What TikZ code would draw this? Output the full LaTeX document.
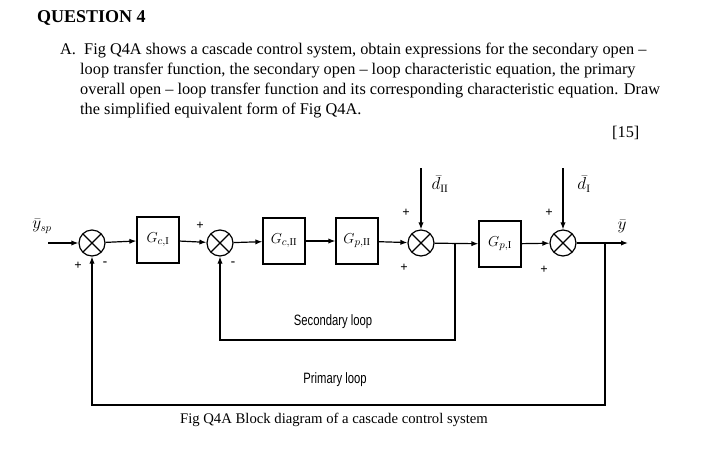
\documentclass[tikz,border=0pt]{standalone}
\usepackage{fontspec}
\setmainfont{Liberation Serif}
\setsansfont{Liberation Sans}
\newfontfamily\bodyfont{Liberation Serif}
\newfontfamily\labfont[FakeStretch=0.75]{Liberation Sans}
\usetikzlibrary{arrows.meta}
\begin{document}
\begin{tikzpicture}[x=1pt,y=-1pt,
  blk/.style={draw,line width=1.2pt,minimum width=42pt,minimum height=46pt,font=\fontsize{15}{17}\selectfont},
  sumj/.style={draw,line width=1.2pt,circle,minimum size=26pt,inner sep=0pt,path picture={\draw[line width=1.2pt] (path picture bounding box.north west)--(path picture bounding box.south east) (path picture bounding box.north east)--(path picture bounding box.south west);}},
  sig/.style={line width=1.2pt,-{Latex[length=7pt]}},
  sgn/.style={font=\fontsize{13}{13}\selectfont\bfseries},
  txt/.style={anchor=west,font=\bodyfont\fontsize{16.3}{18}\selectfont,inner sep=0pt},
  lab/.style={font=\fontsize{16}{18}\selectfont}]
\useasboundingbox[fill=white] (0,0) rectangle (720,448);
\node[anchor=west,font=\bfseries\bodyfont\fontsize{18}{20}\selectfont,inner sep=0pt] (q) at (37,18) {QUESTION 4};
\node[txt] (l1) at (60,51) {A.\enspace Fig Q4A shows a cascade control system, obtain expressions for the secondary open –};
\node[txt] (l2) at (80,71) {loop transfer function, the secondary open – loop characteristic equation, the primary};
\node[txt] (l3) at (80,91) {overall open – loop transfer function and its corresponding characteristic equation. Draw};
\node[txt] (l4) at (80,111) {the simplified equivalent form of Fig Q4A.};
\node[txt] (l5) at (612,133) {[15]};

\node[sumj] (s1) at (92,243) {};
\node[blk] (gc1) at (158,240) {$G_{c,\mathrm{I}}$};
\node[sumj] (s2) at (220,243) {};
\node[blk] (gc2) at (284,241) {$G_{c,\mathrm{II}}$};
\node[blk] (gp2) at (357,241) {$G_{p,\mathrm{II}}$};
\node[sumj] (s3) at (421,243) {};
\node[blk] (gp1) at (500,244) {$G_{p,\mathrm{I}}$};
\node[sumj] (s4) at (563,243) {};
\coordinate (in) at (48,243);
\coordinate (out) at (628,243);
\coordinate (b2) at (455,243);
\coordinate (b1) at (605,243);
\coordinate (d2) at (421,168);
\coordinate (d1) at (563,168);
\node[lab] (ysp) at (42,226) {$\bar y_{sp}$};
\node[lab] (y) at (622,226) {$\bar y$};
\node[lab] (ld2) at (440,184) {$\bar d_{\mathrm{II}}$};
\node[lab] (ld1) at (584,184) {$\bar d_{\mathrm{I}}$};
\draw[sig] (in)--(s1);
\draw[sig] (s1)--(gc1);
\draw[sig] (gc1)--(s2);
\draw[sig] (s2)--(gc2);
\draw[sig] (gc2)--(gp2);
\draw[sig] (gp2)--(s3);
\draw[sig] (s3)--(gp1);
\draw[sig] (gp1)--(s4);
\draw[sig] (s4)--(out);
\draw[sig] (d2)--(s3);
\draw[sig] (d1)--(s4);
\draw[sig] (b2)|-(220,340)--(s2);
\draw[sig] (b1)|-(92,405)--(s1);
\node[sgn] at (78,266) {+};
\node[sgn] at (105,264) {-};
\node[sgn] at (200,226) {+};
\node[sgn] at (233,264) {-};
\node[sgn] at (404,268) {+};
\node[sgn] at (406,213) {+};
\node[sgn] at (544,270) {+};
\node[sgn] at (549,213) {+};
\node[font=\labfont\fontsize{15}{17}\selectfont] (sl) at (333,322) {Secondary loop};
\node[font=\labfont\fontsize{15}{17}\selectfont] (pl) at (335,380) {Primary loop};
\node[font=\bodyfont\fontsize{14.7}{17}\selectfont] (cap) at (334,420) {Fig Q4A Block diagram of a cascade control system};
\end{tikzpicture}
\end{document}
